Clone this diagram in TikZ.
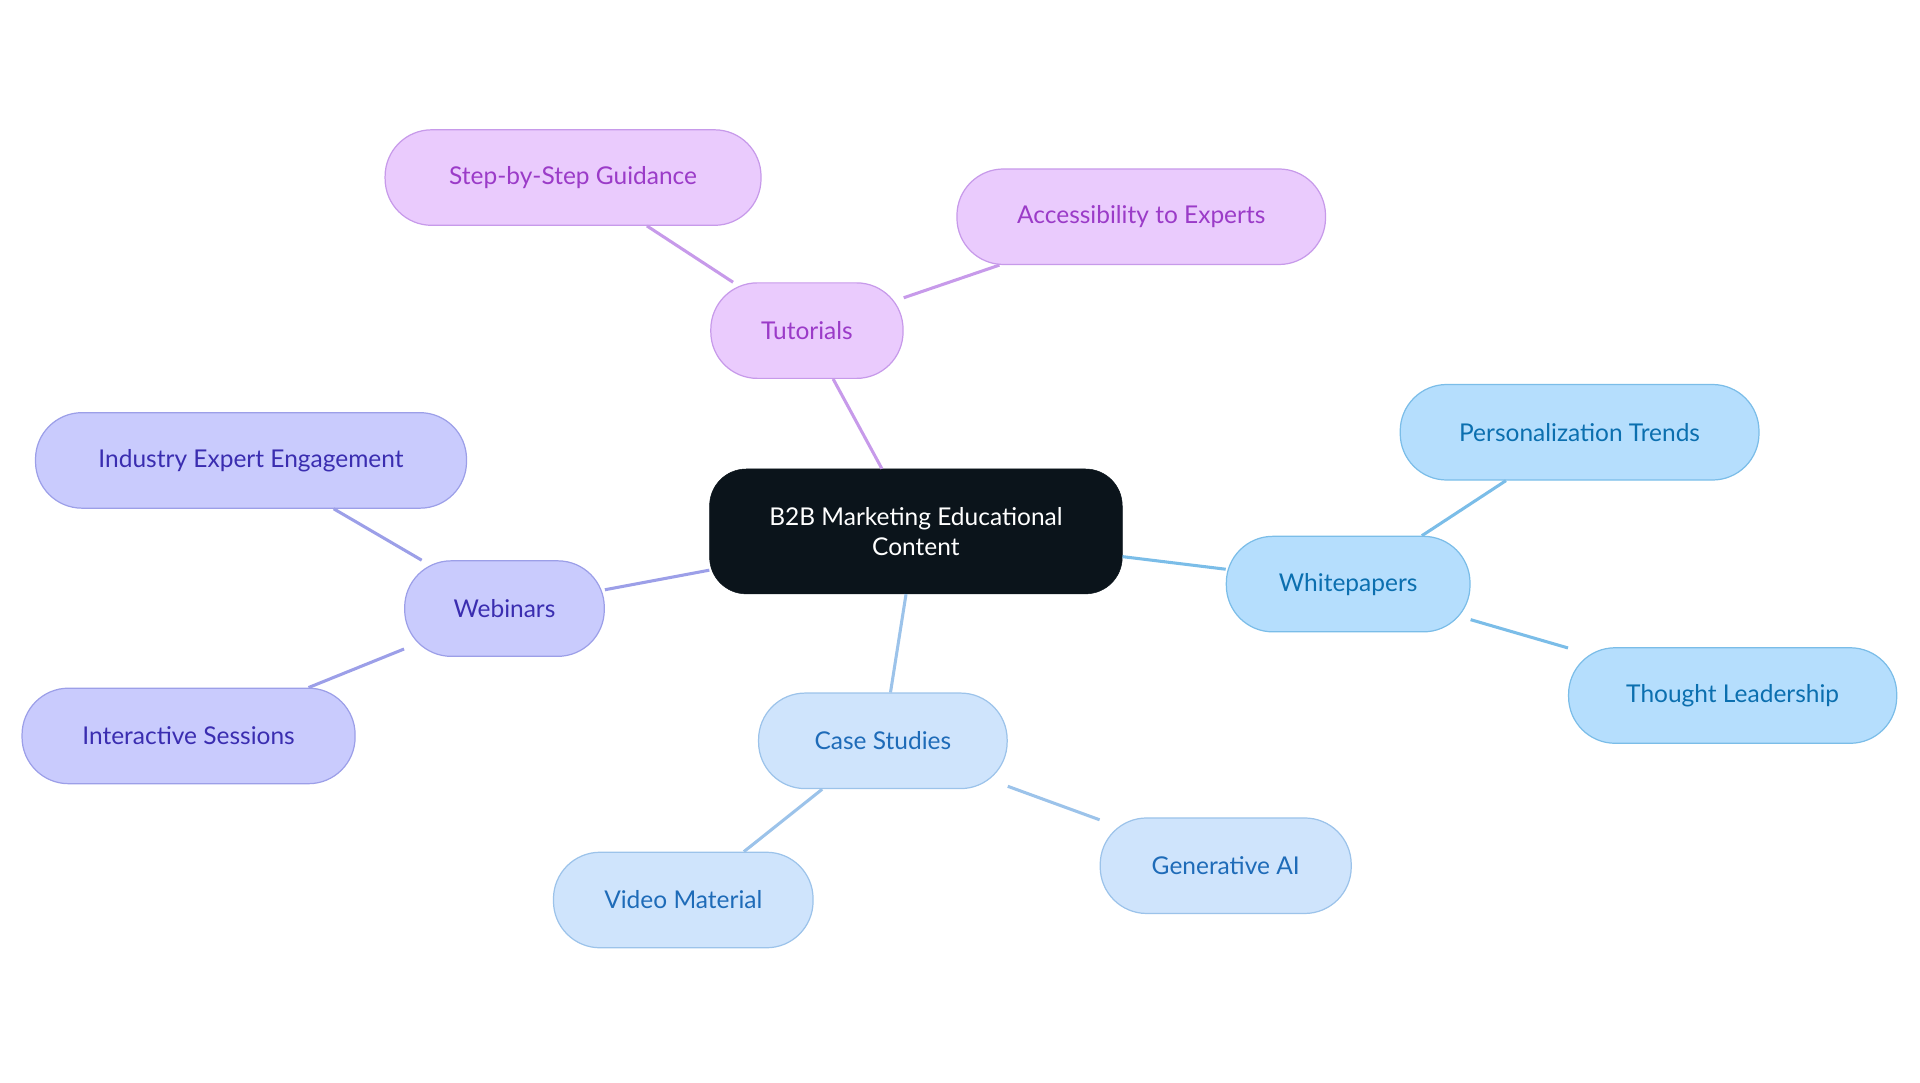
\documentclass[tikz,border=0pt]{standalone}
\usepackage{fontspec}
\setmainfont{Lato}
\definecolor{cblack}{HTML}{0B141B}
\definecolor{tfill}{HTML}{EACBFD}\definecolor{tdraw}{HTML}{C79AEA}\definecolor{ttext}{HTML}{9B3BC8}
\definecolor{wfill}{HTML}{C9CBFD}\definecolor{wdraw}{HTML}{9C9FE8}\definecolor{wtext}{HTML}{3A2DB0}
\definecolor{pfill}{HTML}{B5DEFD}\definecolor{pdraw}{HTML}{7BBDE8}\definecolor{ptext}{HTML}{0B6FAF}
\definecolor{cfill}{HTML}{CFE4FC}\definecolor{cdraw}{HTML}{9CC3EA}\definecolor{ctext}{HTML}{1E6BB8}
\tikzset{x=1pt,y=-1pt,
 pill/.style={draw,line width=1pt,rounded corners=38pt,minimum height=78pt,inner sep=0pt,font=\fontsize{20}{24}\selectfont},
 tut/.style={pill,fill=tfill,draw=tdraw,text=ttext},
 web/.style={pill,fill=wfill,draw=wdraw,text=wtext},
 wp/.style={pill,fill=pfill,draw=pdraw,text=ptext},
 cs/.style={pill,fill=cfill,draw=cdraw,text=ctext},
 link/.style={line width=2.5pt}}
\begin{document}
\begin{tikzpicture}
\useasboundingbox (0,0) rectangle (1568,884);
\node[draw=cblack,fill=cblack,text=white,rounded corners=30pt,minimum width=337pt,minimum height=102pt,align=center,font=\fontsize{20}{24}\selectfont] (c) at (748,434) {B2B Marketing Educational\\Content};
\node[tut,minimum width=157pt] (t) at (659,270) {Tutorials};
\node[tut,minimum width=307pt] (t1) at (468,145) {Step-by-Step Guidance};
\node[tut,minimum width=301pt] (t2) at (932,177) {Accessibility to Experts};
\node[web,minimum width=163pt] (w) at (412,497) {Webinars};
\node[web,minimum width=352pt] (w1) at (205,376) {Industry Expert Engagement};
\node[web,minimum width=272pt] (w2) at (154,601) {Interactive Sessions};
\node[wp,minimum width=199pt] (p) at (1101,477) {Whitepapers};
\node[wp,minimum width=293pt] (p1) at (1290,353) {Personalization Trends};
\node[wp,minimum width=268pt] (p2) at (1415,568) {Thought Leadership};
\node[cs,minimum width=203pt] (s) at (721,605) {Case Studies};
\node[cs,minimum width=212pt] (s1) at (558,735) {Video Material};
\node[cs,minimum width=205pt] (s2) at (1001,707) {Generative AI};
\begin{scope}[on background layer/.try]
\end{scope}
\draw[link,tdraw] (c) -- (t); \draw[link,tdraw] (t) -- (t1); \draw[link,tdraw] (t) -- (t2);
\draw[link,wdraw] (c) -- (w); \draw[link,wdraw] (w) -- (w1); \draw[link,wdraw] (w) -- (w2);
\draw[link,pdraw] (c) -- (p); \draw[link,pdraw] (p) -- (p1); \draw[link,pdraw] (p) -- (p2);
\draw[link,cdraw] (c) -- (s); \draw[link,cdraw] (s) -- (s1); \draw[link,cdraw] (s) -- (s2);
\end{tikzpicture}
\end{document}
